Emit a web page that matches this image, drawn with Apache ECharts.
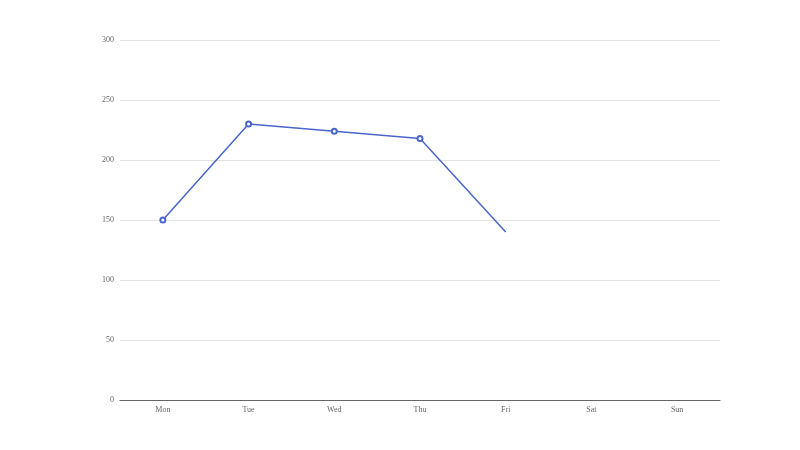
<!DOCTYPE html>
<html>
<head>
<meta charset="utf-8">
<script src="https://cdn.jsdelivr.net/npm/echarts@6/dist/echarts.min.js"></script>
<style>html,body{margin:0;padding:0;background:#fff}#c{width:800px;height:450px}</style>
</head>
<body>
<div id="c"></div>
<script>
var categories = ['Mon', 'Tue', 'Wed', 'Thu', 'Fri', 'Sat', 'Sun'];
var values = [150, 230, 224, 218, 140, null, null];
var yTicks = [0, 50, 100, 150, 200, 250, 300];

var chart = echarts.init(document.getElementById('c'));
chart.setOption({
  animation: false,
  textStyle: { fontFamily: 'Liberation Serif' },
  grid: { left: 120, right: 80, top: 40, bottom: 50 },
  xAxis: {
    type: 'category',
    data: categories,
    axisTick: { show: false },
    axisLine: { lineStyle: { color: '#666666' } },
    axisLabel: { fontFamily: 'Liberation Serif', fontSize: 8, color: '#666666', margin: 6 }
  },
  yAxis: {
    type: 'value',
    min: yTicks[0],
    max: yTicks[yTicks.length - 1],
    interval: 50,
    axisLabel: { fontFamily: 'Liberation Serif', fontSize: 8, color: '#666666', margin: 6 },
    splitLine: { lineStyle: { color: '#e3e3e3' } }
  },
  series: [{
    type: 'line',
    data: values.map(function (v, i) {
      return i === 4 ? { value: v, symbol: 'none' } : v;
    }),
    symbol: 'emptyCircle',
    symbolSize: 5,
    itemStyle: { color: '#4a66c8', borderColor: '#4a66c8', borderWidth: 1.2 },
    lineStyle: { color: '#4a66c8', width: 1.5 },
    connectNulls: false
  }]
});
</script>
</body>
</html>
